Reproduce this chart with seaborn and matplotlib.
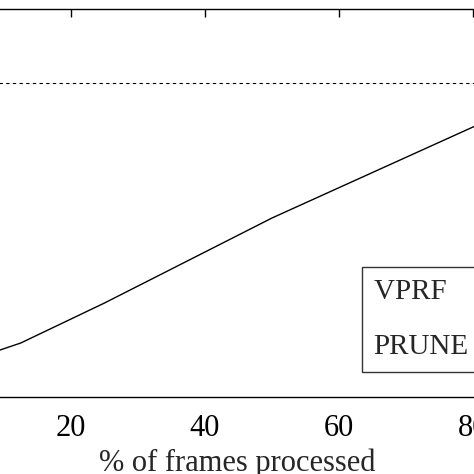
import matplotlib
matplotlib.use("Agg")
import matplotlib.pyplot as plt
import seaborn as sns
import pandas as pd

# values (y in arbitrary units, no y ticks visible)
vprf_x = [5, 12.5, 25, 50, 80, 90]
vprf_y = [40, 57, 97, 182, 273, 303]
prune_x = [0, 100]
prune_y = [317, 317]
xticks = [20, 40, 60, 80]

sns.set_style("white")
plt.rcParams['font.family'] = ['Liberation Serif', 'DejaVu Serif']

fig = plt.figure(figsize=(4.74, 4.74), dpi=100)
ax = fig.add_axes([0.0, 77 / 474, 1.0, 388 / 474])

df_v = pd.DataFrame({"x": vprf_x, "y": vprf_y})
df_p = pd.DataFrame({"x": prune_x, "y": prune_y})
# trailing spaces keep the labels left-aligned with the handles on the right
sns.lineplot(data=df_v, x="x", y="y", ax=ax, color="black", lw=1.0, label="VPRF   ")
sns.lineplot(data=df_p, x="x", y="y", ax=ax, color="black", lw=0.8,
             linestyle=(0, (3, 3)), label="PRUNE")

ax.set_xlim(9.4, 80.15)
ax.set_ylim(3, 391)
ax.set_xticks(xticks)
ax.set_yticks([])
ax.tick_params(axis="x", direction="in", length=6, width=1, top=True,
               labelsize=22, pad=12, colors="black")
for s in ["top", "bottom"]:
    ax.spines[s].set_linewidth(1.0)
    ax.spines[s].set_color("black")
ax.spines["left"].set_visible(False)
ax.spines["right"].set_visible(False)
ax.set_xlabel("% of frames processed", fontsize=22, labelpad=4)
ax.set_ylabel("")

leg = ax.legend(loc="lower left", bbox_to_anchor=(362 / 474, 102 / 474),
                bbox_transform=fig.transFigure, fontsize=21, frameon=True,
                fancybox=False, edgecolor="black", labelspacing=1.0,
                handlelength=2.0, handletextpad=0.5, borderpad=0.4,
                borderaxespad=0, markerfirst=False)
leg.get_frame().set_linewidth(1.0)

fig.savefig("out.png", dpi=100)
